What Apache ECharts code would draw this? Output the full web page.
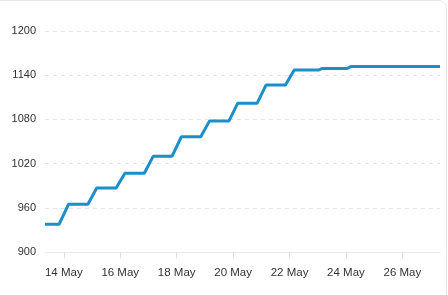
<!DOCTYPE html>
<html>
<head>
<meta charset="utf-8">
<script src="https://cdn.jsdelivr.net/npm/echarts@6/dist/echarts.min.js"></script>
<style>
  html, body { margin: 0; padding: 0; background: #ffffff; overflow: hidden; }
  #card { position: absolute; left: -20px; top: 0; width: 467px; height: 330px; box-sizing: border-box;
          border: 1px solid #e4e8ec; border-radius: 8px; background: #ffffff; }
  #chart { position: absolute; left: 0; top: 0; width: 448px; height: 295px; }
</style>
</head>
<body>
<div id="card"></div>
<div id="chart"></div>
<script>
// Data (year assumed)
const times = [
  '2024-05-13 08:00', '2024-05-13 20:00',
  '2024-05-14 04:00', '2024-05-14 20:30',
  '2024-05-15 04:00', '2024-05-15 20:30',
  '2024-05-16 04:00', '2024-05-16 20:30',
  '2024-05-17 04:00', '2024-05-17 20:00',
  '2024-05-18 04:00', '2024-05-18 20:30',
  '2024-05-19 04:00', '2024-05-19 20:30',
  '2024-05-20 04:00', '2024-05-20 20:30',
  '2024-05-21 04:00', '2024-05-21 20:30',
  '2024-05-22 04:00', '2024-05-23 01:00',
  '2024-05-23 04:00', '2024-05-24 01:00',
  '2024-05-24 04:00', '2024-05-27 08:00'
];
const values = [
  938, 938,
  965, 965,
  987, 987,
  1007, 1007,
  1030, 1030,
  1056.5, 1056.5,
  1078, 1078,
  1102, 1102,
  1126.5, 1126.5,
  1147, 1147,
  1149, 1149,
  1151.5, 1151.5
];
const xTickDates = ['2024-05-14', '2024-05-16', '2024-05-18', '2024-05-20', '2024-05-22', '2024-05-24', '2024-05-26'];
const xStart = '2024-05-13 08:00';
const xEnd = '2024-05-27 08:00';
const yTicks = [900, 960, 1020, 1080, 1140, 1200];
const monthNames = ['Jan','Feb','Mar','Apr','May','Jun','Jul','Aug','Sep','Oct','Nov','Dec'];

function parseT(s) {
  const [d, t] = s.split(' ');
  const [y, m, dd] = d.split('-').map(Number);
  let hh = 0, mm = 0;
  if (t) { [hh, mm] = t.split(':').map(Number); }
  return new Date(y, m - 1, dd, hh, mm).getTime();
}

const seriesData = times.map((t, i) => [parseT(t), values[i]]);
const tickVals = xTickDates.map(parseT);

const chart = echarts.init(document.getElementById('chart'), null, { renderer: 'canvas' });
chart.setOption({
  animation: false,
  backgroundColor: 'transparent',
  grid: { left: 45, right: 8, top: 30.8, bottom: 42.7, containLabel: false },
  xAxis: {
    type: 'value',
    min: parseT(xStart),
    max: parseT(xEnd),
    axisLine: { show: true, lineStyle: { color: '#ebebeb', width: 1 } },
    axisTick: { show: true, customValues: tickVals, length: 6, lineStyle: { color: '#dddddd' } },
    axisLabel: {
      customValues: tickVals,
      margin: 15,
      color: '#333333',
      fontSize: 11.5,
      fontFamily: 'Liberation Sans, Arial, sans-serif',
      formatter: function (v) { const d = new Date(v); return d.getDate() + ' ' + monthNames[d.getMonth()]; }
    },
    splitLine: { show: false }
  },
  yAxis: {
    type: 'value',
    min: yTicks[0],
    max: yTicks[yTicks.length - 1],
    interval: yTicks[1] - yTicks[0],
    axisLine: { show: false },
    axisTick: { show: false },
    axisLabel: {
      margin: 9,
      color: '#333333',
      fontSize: 11,
      fontFamily: 'Liberation Sans, Arial, sans-serif',
      formatter: function (v) { return String(v); }
    },
    splitLine: { show: true, lineStyle: { color: '#e2e2e2', type: [4, 4], width: 1 } }
  },
  series: [{
    type: 'line',
    data: seriesData,
    showSymbol: false,
    smooth: false,
    lineStyle: { color: '#1a8fca', width: 3 },
    itemStyle: { color: '#1a8fca' }
  }]
});
</script>
</body>
</html>
